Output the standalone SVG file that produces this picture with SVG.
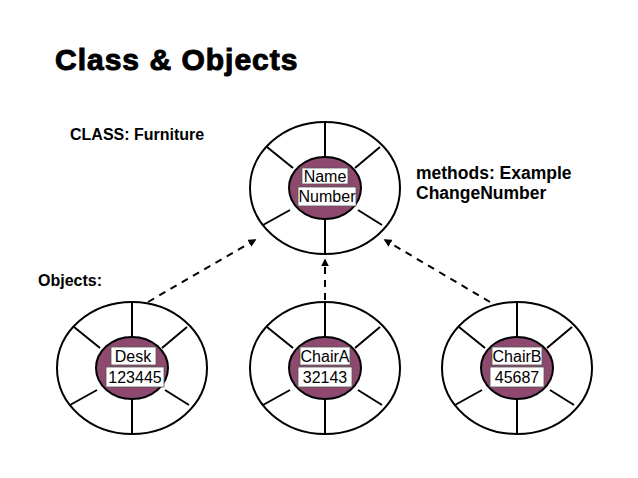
<svg xmlns="http://www.w3.org/2000/svg" width="638" height="478" viewBox="0 0 638 478">
<defs>
<style>
.o{fill:#fff;stroke:#000;stroke-width:2}
.i{fill:#8e4a6e;stroke:#000;stroke-width:2}
.s{stroke:#000;stroke-width:2}
.b{fill:#fff;stroke:#555;stroke-width:0.8}
.t{font-family:"Liberation Sans",Arial,sans-serif;font-size:16px;fill:#000;text-anchor:middle}
.h{font-family:"Liberation Sans",Arial,sans-serif;font-weight:bold;fill:#000}
.c{stroke:#000;stroke-width:2;stroke-dasharray:7 6;fill:none;marker-end:url(#a)}
</style>
<marker id="a" viewBox="0 0 10 10" refX="8" refY="5" markerWidth="4" markerHeight="4" orient="auto"><path d="M0,0L10,5L0,10z" fill="#000"/></marker>
<g id="w">
<path class="s" d="M0,-66V-30M0,30V66M-58,-41L-32,-20M-62,37L-35,22M55,-41L30,-20M57,37L33,22"/>
</g>
</defs>
<rect width="638" height="478" fill="#fff"/>
<text class="h" x="55" y="70" font-size="30" letter-spacing="1" stroke="#000" stroke-width="1">Class &amp; Objects</text>
<text class="h" x="70" y="140" font-size="16">CLASS: Furniture</text>
<text class="h" x="38" y="286" font-size="16">Objects:</text>
<text class="h" x="416" y="179" font-size="17.5">methods: Example</text>
<text class="h" x="416" y="199" font-size="17.5">ChangeNumber</text>
<g id="furniture" transform="translate(325,188)">
<ellipse class="o" rx="75" ry="66"/><use href="#w"/><ellipse class="i" rx="36" ry="31"/>
<rect class="b" x="-23" y="-20" width="46" height="16"/><text class="t" x="0" y="-6">Name</text>
<rect class="b" x="-27" y="-1" width="58" height="19"/><text class="t" x="2" y="14">Number</text>
</g>
<g id="desk" transform="translate(132,368)">
<ellipse class="o" rx="75" ry="66"/><use href="#w"/><ellipse class="i" rx="36" ry="31"/>
<rect class="b" x="-21" y="-21" width="45" height="18"/><text class="t" x="1" y="-6">Desk</text>
<rect class="b" x="-26" y="-1" width="58" height="20"/><text class="t" x="3" y="15">123445</text>
</g>
<g id="chairA" transform="translate(325,368)">
<ellipse class="o" rx="75" ry="66"/><use href="#w"/><ellipse class="i" rx="36" ry="31"/>
<rect class="b" x="-25" y="-21" width="50" height="18"/><text class="t" x="0" y="-6">ChairA</text>
<rect class="b" x="-27" y="-1" width="54" height="20"/><text class="t" x="0" y="15">32143</text>
</g>
<g id="chairB" transform="translate(517,368)">
<ellipse class="o" rx="75" ry="66"/><use href="#w"/><ellipse class="i" rx="36" ry="31"/>
<rect class="b" x="-25" y="-21" width="50" height="18"/><text class="t" x="0" y="-6">ChairB</text>
<rect class="b" x="-27" y="-1" width="54" height="20"/><text class="t" x="0" y="15">45687</text>
</g>
<g id="connectors">
<path class="c" d="M148,302L255,240"/>
<path class="c" d="M325,300L325,260"/>
<path class="c" d="M490,302L385,240"/>
</g>
</svg>
